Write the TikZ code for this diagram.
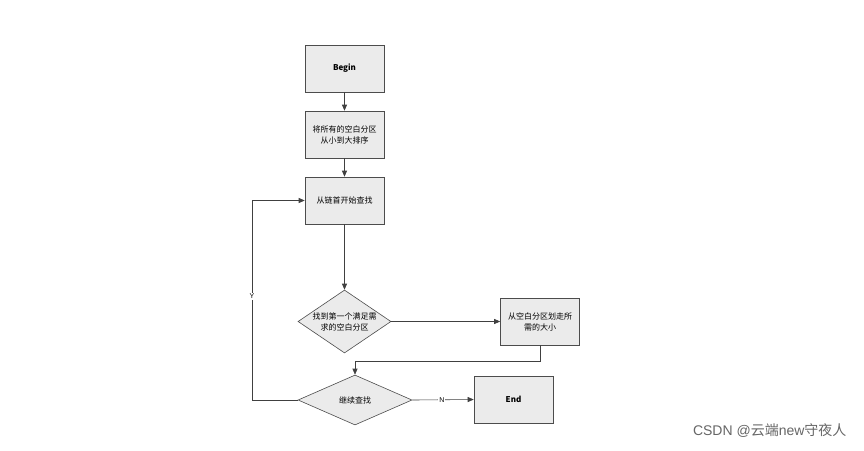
\documentclass[tikz,border=0pt]{standalone}
\usepackage{fontspec}
\setmainfont{Liberation Sans}
\newfontfamily\cjk{Noto Sans CJK SC}
\usetikzlibrary{shapes.geometric,arrows.meta}
\begin{document}
\begin{tikzpicture}[x=1pt,y=-1pt,
  box/.style={draw=black!70,fill=black!8,minimum width=79pt,minimum height=47pt,align=center,font=\cjk\fontsize{8}{11}\selectfont,inner sep=1pt,line width=0.6pt},
  dia/.style={diamond,aspect=1.5,draw=black!70,fill=black!8,align=center,font=\cjk\fontsize{8}{11}\selectfont,inner sep=0pt,line width=0.6pt},
  arr/.style={draw=black!75,line width=0.6pt,-{Triangle[length=6pt,width=5pt]}},
  lbl/.style={font=\fontsize{7}{8}\selectfont,fill=white,inner sep=1pt}]
\useasboundingbox (0,0) rectangle (864,450);
\fill[white] (0,0) rectangle (864,450);
\node[box] (b) at (344.5,68.5) {\bfseries Begin};
\node[box] (s) at (344.5,134.5) {将所有的空白分区\\从小到大排序};
\node[box] (f) at (344.5,200.5) {从链首开始查找};
\node[dia,minimum width=93pt,minimum height=63pt] (d1) at (344.5,321.5) {找到第一个满足需\\求的空白分区};
\node[box] (a) at (540,321.5) {从空白分区划走所\\需的大小};
\node[dia,minimum width=114pt,minimum height=50pt] (d2) at (355,400) {继续查找};
\node[box] (e) at (513.5,399.5) {\bfseries End};
\coordinate (l1) at (252,400);
\coordinate (l2) at (252,200.5);
\coordinate (m1) at (540,361);
\coordinate (m2) at (355,361);
\draw[arr] (b) -- (s);
\draw[arr] (s) -- (f);
\draw[arr] (f) -- (d1);
\draw[arr] (d1) -- (a);
\draw[arr] (a.south) -- (m1) -- (m2) -- (d2.north);
\draw[arr] (d2.west) -- (l1) -- node[lbl,pos=0.52] (y) {Y} (l2) -- (f.west);
\draw[arr] (d2.east) -- node[lbl,pos=0.48] (n) {N} (e.west);
\node[text=black!60,font=\fontsize{14}{16}\selectfont,anchor=east] (w) at (850,431) {CSDN @{\cjk 云端}new{\cjk 守夜人}};
\end{tikzpicture}
\end{document}
